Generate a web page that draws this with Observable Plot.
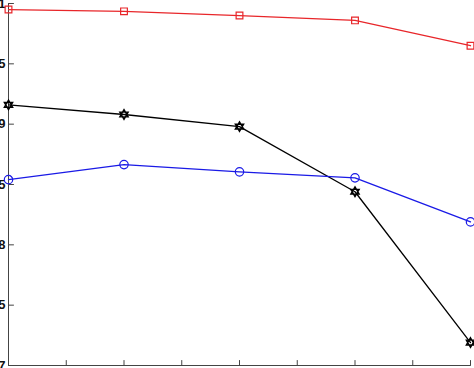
<!DOCTYPE html>
<html>
<head>
<meta charset="utf-8">
<script src="https://cdn.jsdelivr.net/npm/d3@7"></script>
<script src="https://cdn.jsdelivr.net/npm/@observablehq/plot@0.6"></script>
<style>
  html, body { margin: 0; padding: 0; background: white; }
  #chart svg { display: block; }
</style>
</head>
<body>
<div id="chart"></div>
<script>
const xValues = [1, 2, 3, 4, 5];
const redSeries = [0.995, 0.9935, 0.990, 0.986, 0.965];
const blackSeries = [0.916, 0.908, 0.898, 0.844, 0.719];
const blueSeries = [0.854, 0.8665, 0.8605, 0.8555, 0.819];
const yTicks = [0.7, 0.75, 0.8, 0.85, 0.9, 0.95, 1];
const yTickLabels = ["0.7", "0.75", "0.8", "0.85", "0.9", "0.95", "1"];
const xTicks = [1, 1.5, 2, 2.5, 3, 3.5, 4, 4.5, 5];

const rows = [];
const series = [
  {name: "red", values: redSeries},
  {name: "black", values: blackSeries},
  {name: "blue", values: blueSeries}
];
for (const s of series) xValues.forEach((x, i) => rows.push({series: s.name, x, y: s.values[i]}));

const hexagram = {
  draw(context, size) {
    const r = Math.sqrt(size / Math.PI);
    for (let t = 0; t < 2; t++) {
      for (let k = 0; k < 3; k++) {
        const a = (t * Math.PI / 3) + k * 2 * Math.PI / 3 - Math.PI / 2;
        const px = r * Math.cos(a), py = r * Math.sin(a);
        if (k === 0) context.moveTo(px, py); else context.lineTo(px, py);
      }
      context.closePath();
    }
  }
};
const tickShape = {
  draw(context, l) { context.moveTo(0, 0); context.lineTo(0, -l); }
};

const colors = {red: "#e8262a", black: "#000000", blue: "#1a1ae6"};

const chart = Plot.plot({
  width: 474,
  height: 368,
  marginLeft: 8,
  marginRight: 4,
  marginTop: 3,
  marginBottom: 3,
  style: {fontFamily: "'Liberation Sans', Arial, sans-serif", background: "white"},
  x: {domain: [1, 5]},
  y: {domain: [0.7, 1]},
  marks: [
    Plot.axisY({ticks: yTicks, tickSize: 0, tickPadding: 3, tickFormat: (d) => yTickLabels[yTicks.indexOf(d)], fontSize: 13, fontWeight: "bold", fill: "#111", label: null}),
    Plot.axisX({ticks: xTicks, tickSize: 0, tickPadding: 6, fontSize: 13, label: null}),
    Plot.ruleX([1], {stroke: "#444", strokeWidth: 1}),
    Plot.ruleY([0.7], {stroke: "#444", strokeWidth: 1}),
    Plot.vector(yTicks, {y: (d) => d, frameAnchor: "left", rotate: 90, length: 5, anchor: "start", shape: tickShape, stroke: "#444", strokeWidth: 1}),
    Plot.vector(xTicks, {x: (d) => d, frameAnchor: "bottom", rotate: 0, length: 5, anchor: "start", shape: tickShape, stroke: "#444", strokeWidth: 1}),
    Plot.line(rows, {x: "x", y: "y", z: "series", stroke: (d) => colors[d.series], strokeWidth: 1.3}),
    Plot.dot(rows.filter(d => d.series === "red"), {x: "x", y: "y", symbol: "square", r: 3.8, stroke: colors.red, fill: "none", strokeWidth: 1.2}),
    Plot.dot(rows.filter(d => d.series === "blue"), {x: "x", y: "y", symbol: "circle", r: 4.2, stroke: colors.blue, fill: "none", strokeWidth: 1.2}),
    Plot.dot(rows.filter(d => d.series === "black"), {x: "x", y: "y", symbol: hexagram, r: 4.8, stroke: colors.black, fill: "none", strokeWidth: 1.4})
  ]
});
chart.style.overflow = "hidden";
document.getElementById("chart").appendChild(chart);
</script>
</body>
</html>
